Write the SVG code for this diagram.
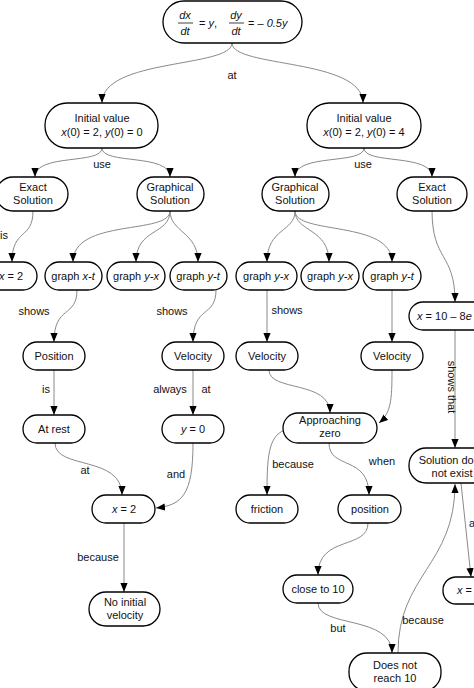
<svg xmlns="http://www.w3.org/2000/svg" width="474" height="688" viewBox="0 0 474 688">
<defs>
<marker id="ah" viewBox="0 0 10 8" markerWidth="9" markerHeight="8" refX="10" refY="4" orient="auto" markerUnits="userSpaceOnUse">
<path d="M0,0 L10,4 L0,8 z" fill="#000"/>
</marker>
<style>
.n rect{fill:#fff;stroke:#000;stroke-width:1.3}
text{font-family:"Liberation Sans",Arial,sans-serif;font-size:11px;fill:#111}
.c{text-anchor:middle}
.i{font-style:italic}
#edges path{fill:none;stroke:#8a8a8a;stroke-width:1;marker-end:url(#ah)}
</style>
</defs>
<rect width="474" height="688" fill="#fff"/>
<g id="edges">
<path d="M232,43 C232,68 102,58 102,103"/>
<path d="M232,43 C232,68 363,58 363,103"/>
<path d="M102,148 C102,165 35,153 35,177"/>
<path d="M102,148 C102,165 170,153 170,177"/>
<path d="M364,148 C364,165 295,153 295,177"/>
<path d="M364,148 C364,165 432,153 432,177"/>
<path d="M33,211 C33,240 12,228 12,262"/>
<path d="M170,211 C170,235 73,218 73,262"/>
<path d="M170,211 C170,235 136,228 136,262"/>
<path d="M170,211 C170,232 198,232 198,262"/>
<path d="M295,211 C295,232 267,228 267,262"/>
<path d="M295,211 C295,232 329,228 329,262"/>
<path d="M295,211 C295,235 392,220 392,262"/>
<path d="M432,210 C432,262 455,252 455,302"/>
<path d="M77,290 C77,318 54,305 54,342"/>
<path d="M216,290 C216,318 193,305 193,342"/>
<path d="M267,290 L267,342"/>
<path d="M392,290 L392,342"/>
<path d="M455,330 L455,448"/>
<path d="M54,370 L54,415"/>
<path d="M193,370 L193,415"/>
<path d="M269,370 C269,392 330,380 330,413"/>
<path d="M392,370 C392,400 391,413 379,423"/>
<path d="M55,443 C55,470 122,455 122,495"/>
<path d="M193,443 C193,495 182,505 156,508"/>
<path d="M124,523 L124,592"/>
<path d="M285,430 C268,436 267,458 267,495"/>
<path d="M329,443 C329,470 369,455 369,495"/>
<path d="M368,523 C368,550 318,535 318,575"/>
<path d="M318,603 C318,628 392,615 392,653"/>
<path d="M398,653 C398,575 455,565 455,484"/>
<path d="M461,483 L471,577"/>
</g>
<g id="n-top" class="n"><rect x="163" y="1" width="139" height="42" rx="21"/>
<text x="185" y="19" class="c i">dx</text><line x1="178" y1="23" x2="193" y2="23" stroke="#111" stroke-width="0.8"/><text x="185" y="35" class="c i">dt</text>
<text x="199" y="27">= <tspan class="i">y</tspan>,</text>
<text x="236" y="19" class="c i">dy</text><line x1="229" y1="23" x2="244" y2="23" stroke="#111" stroke-width="0.8"/><text x="236" y="35" class="c i">dt</text>
<text x="248" y="27">= – <tspan class="i">0.5y</tspan></text></g>
<g id="n-iv1" class="n"><rect x="45" y="103" width="113" height="45" rx="22"/><text x="102" y="122" class="c">Initial value</text><text x="102" y="136" class="c"><tspan class="i">x</tspan>(0) = 2, <tspan class="i">y</tspan>(0) = 0</text></g>
<g id="n-iv2" class="n"><rect x="307" y="103" width="114" height="45" rx="22"/><text x="364" y="122" class="c">Initial value</text><text x="364" y="136" class="c"><tspan class="i">x</tspan>(0) = 2, <tspan class="i">y</tspan>(0) = 4</text></g>
<g id="n-exact1" class="n"><rect x="-4" y="177" width="72" height="34" rx="17"/><text x="33" y="191" class="c">Exact</text><text x="33" y="204" class="c">Solution</text></g>
<g id="n-graph1" class="n"><rect x="137" y="177" width="67" height="34" rx="17"/><text x="170" y="191" class="c">Graphical</text><text x="170" y="204" class="c">Solution</text></g>
<g id="n-graph2" class="n"><rect x="262" y="177" width="67" height="34" rx="17"/><text x="295" y="191" class="c">Graphical</text><text x="295" y="204" class="c">Solution</text></g>
<g id="n-exact2" class="n"><rect x="397" y="177" width="70" height="34" rx="17"/><text x="432" y="191" class="c">Exact</text><text x="432" y="204" class="c">Solution</text></g>
<g id="n-xeq2a" class="n"><rect x="-15" y="262" width="52" height="28" rx="14"/><text x="11" y="280" class="c"><tspan class="i">x</tspan> = 2</text></g>
<g id="n-gxt" class="n"><rect x="45" y="262" width="57" height="28" rx="14"/><text x="73" y="280" class="c">graph <tspan class="i">x-t</tspan></text></g>
<g id="n-gyx1" class="n"><rect x="107" y="262" width="58" height="28" rx="14"/><text x="136" y="280" class="c">graph <tspan class="i">y-x</tspan></text></g>
<g id="n-gyt1" class="n"><rect x="170" y="262" width="57" height="28" rx="14"/><text x="198" y="280" class="c">graph <tspan class="i">y-t</tspan></text></g>
<g id="n-gyx2" class="n"><rect x="236" y="262" width="61" height="28" rx="14"/><text x="266" y="280" class="c">graph <tspan class="i">y-x</tspan></text></g>
<g id="n-gyx3" class="n"><rect x="301" y="262" width="58" height="28" rx="14"/><text x="330" y="280" class="c">graph <tspan class="i">y-x</tspan></text></g>
<g id="n-gyt2" class="n"><rect x="363" y="262" width="58" height="28" rx="14"/><text x="392" y="280" class="c">graph <tspan class="i">y-t</tspan></text></g>
<g id="n-xeq10" class="n"><rect x="409" y="302" width="95" height="28" rx="14"/><text x="417" y="320"><tspan class="i">x</tspan> = 10 – 8<tspan class="i">e</tspan></text></g>
<g id="n-pos1" class="n"><rect x="23" y="342" width="62" height="28" rx="14"/><text x="54" y="360" class="c">Position</text></g>
<g id="n-vel1" class="n"><rect x="162" y="342" width="62" height="28" rx="14"/><text x="193" y="360" class="c">Velocity</text></g>
<g id="n-vel2" class="n"><rect x="236" y="342" width="62" height="28" rx="14"/><text x="267" y="360" class="c">Velocity</text></g>
<g id="n-vel3" class="n"><rect x="361" y="342" width="62" height="28" rx="14"/><text x="392" y="360" class="c">Velocity</text></g>
<g id="n-atrest" class="n"><rect x="23" y="415" width="62" height="28" rx="14"/><text x="54" y="433" class="c">At rest</text></g>
<g id="n-y0" class="n"><rect x="162" y="415" width="62" height="28" rx="14"/><text x="193" y="433" class="c"><tspan class="i">y</tspan> = 0</text></g>
<g id="n-appr" class="n"><rect x="283" y="413" width="94" height="30" rx="15"/><text x="330" y="424" class="c">Approaching</text><text x="330" y="437" class="c">zero</text></g>
<g id="n-soln" class="n"><rect x="409" y="448" width="95" height="35" rx="17"/><text x="452" y="464" class="c">Solution does</text><text x="452" y="477" class="c">not exist</text></g>
<g id="n-x2" class="n"><rect x="92" y="495" width="63" height="28" rx="14"/><text x="124" y="513" class="c"><tspan class="i">x</tspan> = 2</text></g>
<g id="n-friction" class="n"><rect x="236" y="495" width="62" height="28" rx="14"/><text x="267" y="513" class="c">friction</text></g>
<g id="n-pos2" class="n"><rect x="338" y="495" width="63" height="28" rx="14"/><text x="370" y="513" class="c">position</text></g>
<g id="n-close" class="n"><rect x="283" y="575" width="70" height="28" rx="14"/><text x="318" y="593" class="c">close to 10</text></g>
<g id="n-xeqR" class="n"><rect x="443" y="577" width="60" height="27" rx="13"/><text x="457" y="594"><tspan class="i">x</tspan> =</text></g>
<g id="n-noinit" class="n"><rect x="89" y="592" width="71" height="34" rx="17"/><text x="125" y="606" class="c">No initial</text><text x="125" y="619" class="c">velocity</text></g>
<g id="n-doesnot" class="n"><rect x="349" y="653" width="92" height="38" rx="18"/><text x="395" y="669" class="c">Does not</text><text x="395" y="682" class="c">reach 10</text></g>
<g id="labels">
<text x="232" y="79" class="c">at</text>
<text x="102" y="168" class="c">use</text>
<text x="363" y="168" class="c">use</text>
<text x="4" y="239" class="c">is</text>
<text x="34" y="315" class="c">shows</text>
<text x="172" y="315" class="c">shows</text>
<text x="287" y="314" class="c">shows</text>
<text x="448" y="387" class="c" transform="rotate(90 448 387)">shows that</text>
<text x="46" y="393" class="c">is</text>
<text x="170" y="393" class="c">always</text>
<text x="206" y="393" class="c">at</text>
<text x="85" y="474" class="c">at</text>
<text x="176" y="478" class="c">and</text>
<text x="293" y="468" class="c">because</text>
<text x="382" y="465" class="c">when</text>
<text x="469" y="527">a</text>
<text x="98" y="561" class="c">because</text>
<text x="423" y="624" class="c">because</text>
<text x="338" y="632" class="c">but</text>
</g>
</svg>
